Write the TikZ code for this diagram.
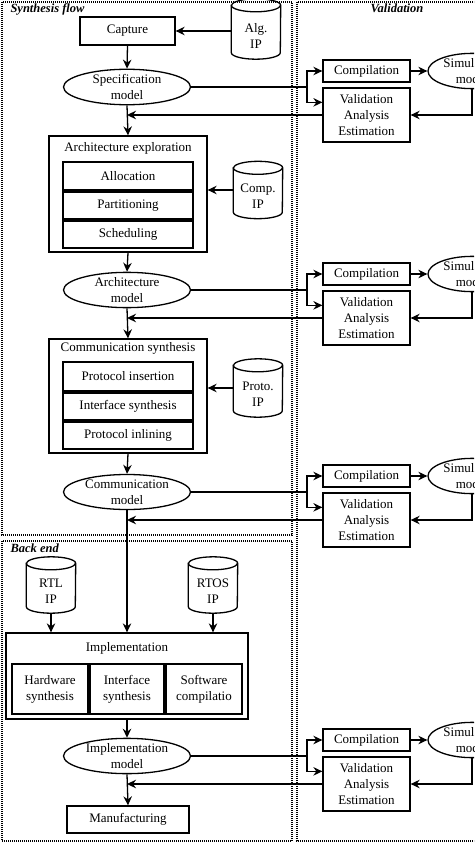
\documentclass[tikz,border=0pt]{standalone}
\usepackage{fontspec}
\setmainfont{Liberation Serif}
\usetikzlibrary{arrows.meta,shapes.geometric,calc}
\newcommand\cylshape[1]{%
  \draw[line width=1.3pt] ([yshift=-6.5pt]#1.north west) -- ([yshift=6.5pt]#1.south west)
    arc[start angle=180,end angle=360,x radius=24.5pt,y radius=6.5pt]
    -- ([yshift=-6.5pt]#1.north east)
    arc[start angle=0,end angle=180,x radius=24.5pt,y radius=6.5pt] -- cycle;
  \draw[line width=1.3pt] ([yshift=-6.5pt]#1.north west)
    arc[start angle=180,end angle=360,x radius=24.5pt,y radius=6.5pt];}
\begin{document}
\begin{tikzpicture}[x=1pt,y=-1pt,
  font=\fontsize{13}{15.8}\selectfont,
  box/.style={draw, line width=1.3pt, inner sep=0pt, align=center},
  ell/.style={draw, ellipse, line width=1.3pt, minimum width=127pt, minimum height=35pt, inner sep=0pt, align=center},
  arr/.style={line width=1.3pt, -{Stealth[length=9pt,width=8.5pt,inset=3pt]}},
  ln/.style={line width=1.3pt},
  frame/.style={line width=2pt, dash pattern=on 1pt off 1pt},
  lab/.style={font=\fontsize{12.5}{15}\selectfont\bfseries\itshape},
  cyl/.style={minimum width=49pt, inner sep=0pt},
  txt/.style={inner sep=0pt, align=center}]
\useasboundingbox (0,0) rectangle (474,843);
\clip (0,0) rectangle (474,843);
% frames
\draw[frame] (2,2) rectangle (292,535);
\draw[frame] (2,541) rectangle (292,841);
\draw[frame] (297,2) rectangle (490,841);
\node[lab, anchor=base west] (lsyn) at (7,13) {Synthesis flow};
\node[lab, anchor=base] (lval) at (397,13) {Validation};
\node[lab, anchor=base west] (lbe) at (7,552) {Back end};
% synthesis flow
\node[box, minimum width=95pt, minimum height=28pt] (capture) at (127.5,31) {Capture};
\node[cyl, minimum height=60pt] (algip) at (256,29) {};
\cylshape{algip}
\node[txt] (algipt) at ([yshift=-7pt]algip.center) {Alg.\\IP};
\node[ell] (specm) at (127,87) {Specification\\model};

\node[box, minimum width=158pt, minimum height=116pt] (arch) at (128,194) {};
\node[txt] (archt) at (128,148) {Architecture exploration};
\node[box, minimum width=130pt, minimum height=28pt] (alloc) at (128,176) {Allocation};
\node[box, minimum width=130pt, minimum height=27pt] (part) at (128,205.5) {Partitioning};
\node[box, minimum width=130pt, minimum height=27pt] (sched) at (128,234.5) {Scheduling};
\node[cyl, minimum height=57pt] (compip) at (258,190) {};
\cylshape{compip}
\node[txt] (compipt) at ([yshift=-6pt]compip.center) {Comp.\\IP};
\node[ell] (archm) at (127,290) {Architecture\\model};

\node[box, minimum width=158pt, minimum height=114pt] (comm) at (128,396) {};
\node[txt] (commt) at (128,348) {Communication synthesis};
\node[box, minimum width=130pt, minimum height=29pt] (pins) at (128,376.5) {Protocol insertion};
\node[box, minimum width=130pt, minimum height=27pt] (isyn) at (128,406.5) {Interface synthesis};
\node[box, minimum width=130pt, minimum height=27pt] (pinl) at (128,435.5) {Protocol inlining};
\node[cyl, minimum height=58pt] (protoip) at (258,388) {};
\cylshape{protoip}
\node[txt] (protoipt) at ([yshift=-6pt]protoip.center) {Proto.\\IP};
\node[ell] (commm) at (127,492) {Communication\\model};

% back end
\node[cyl, minimum height=56pt] (rtlip) at (51,585) {};
\cylshape{rtlip}
\node[txt] (rtlipt) at ([yshift=-6pt]rtlip.center) {RTL\\IP};
\node[cyl, minimum height=56pt] (rtosip) at (213,585) {};
\cylshape{rtosip}
\node[txt] (rtosipt) at ([yshift=-6pt]rtosip.center) {RTOS\\IP};
\node[box, minimum width=242pt, minimum height=86pt] (impl) at (127,676) {};
\node[txt] (implt) at (127,648) {Implementation};
\node[box, minimum width=76pt, minimum height=50pt] (hw) at (50,689) {Hardware\\synthesis};
\node[box, minimum width=74pt, minimum height=50pt] (ifs) at (127,689) {Interface\\synthesis};
\node[box, minimum width=76pt, minimum height=50pt] (sw) at (204,689) {Software\\compilatio};
\node[ell] (implm) at (127,756) {Implementation\\model};
\node[box, minimum width=122pt, minimum height=27pt] (manu) at (128,819.5) {Manufacturing};

% main flow
\draw[arr] (capture.south) -- (specm.north);
\draw[arr] (specm.south) -- (arch.north);
\draw[arr] (arch.south) -- (archm.north);
\draw[arr] (archm.south) -- (comm.north);
\draw[arr] (comm.south) -- (commm.north);
\draw[arr] (commm.south) -- (impl.north);
\draw[arr] (impl.south) -- (implm.north);
\draw[arr] (implm.south) -- (manu.north);
\draw[arr] (algip.west |- capture.east) -- (capture.east);
\draw[arr] (compip.west) -- (compip.west -| arch.east);
\draw[arr] (protoip.west) -- (protoip.west -| comm.east);
\draw[arr] (rtlip.south) -- (rtlip.south |- impl.north);
\draw[arr] (rtosip.south) -- (rtosip.south |- impl.north);

% validation groups
\foreach \L/\n/\m in {87/1/specm,290/2/archm,492/3/commm,756/4/implm} {
  \coordinate (br\n) at (307,\L);
  \node[box, minimum width=87pt, minimum height=22pt] (comp\n) at (366.5,\L-16) {Compilation};
  \node[box, minimum width=87pt, minimum height=54pt] (val\n) at (366.5,\L+28) {Validation\\Analysis\\Estimation};
  \node[ell, minimum width=88pt, minimum height=35pt] (sim\n) at (472,\L-16) {Simulation\\model};
  \draw[ln] (\m.east) -- (br\n);
  \draw[arr] (br\n) |- (comp\n.west);
  \draw[arr] (br\n) |- ([yshift=-15pt]val\n.north west);
  \draw[arr] (comp\n.east) -- (sim\n.west);
  \draw[arr] (sim\n.south) |- (val\n.east);
  \draw[arr] (val\n.west) -- (val\n.west -| \m.south);
}
\end{tikzpicture}
\end{document}
